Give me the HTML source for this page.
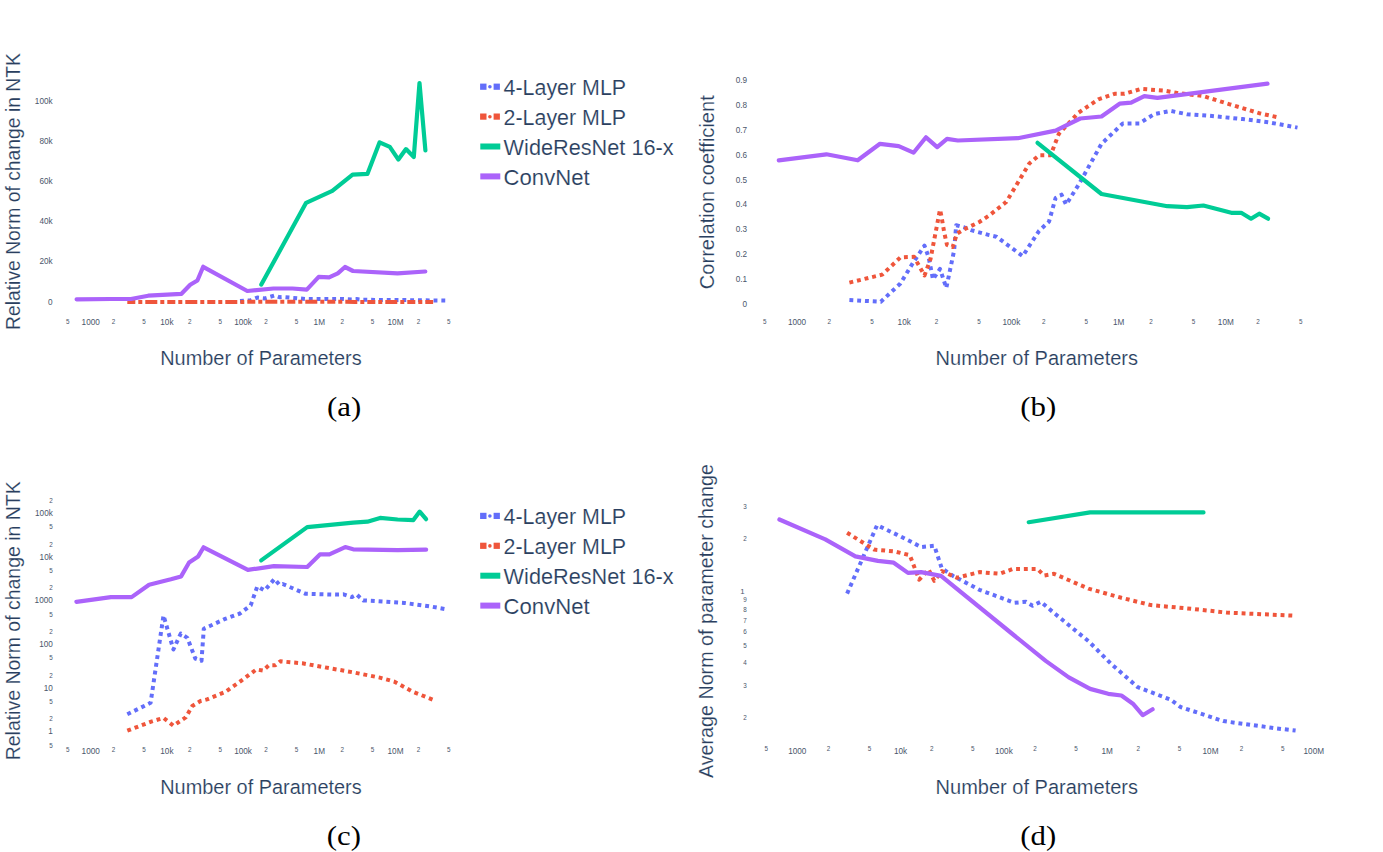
<!DOCTYPE html>
<html><head><meta charset="utf-8"><style>
html,body{margin:0;padding:0;background:#fff;}
body{width:1383px;height:852px;overflow:hidden;}
svg{display:block;}
.th{stroke:#fff;stroke-width:0.15px;}
</style></head><body>
<svg width="1383" height="852" viewBox="0 0 1383 852">
<rect width="1383" height="852" fill="#fff"/>
<text x="52.6" y="304.5" font-size="8.20" text-anchor="end" fill="#4b566b" font-family="Liberation Sans, sans-serif" >0</text>
<text x="52.6" y="264.4" font-size="8.20" text-anchor="end" fill="#4b566b" font-family="Liberation Sans, sans-serif" >20k</text>
<text x="52.6" y="224.3" font-size="8.20" text-anchor="end" fill="#4b566b" font-family="Liberation Sans, sans-serif" >40k</text>
<text x="52.6" y="184.2" font-size="8.20" text-anchor="end" fill="#4b566b" font-family="Liberation Sans, sans-serif" >60k</text>
<text x="52.6" y="144.1" font-size="8.20" text-anchor="end" fill="#4b566b" font-family="Liberation Sans, sans-serif" >80k</text>
<text x="52.6" y="104.0" font-size="8.20" text-anchor="end" fill="#4b566b" font-family="Liberation Sans, sans-serif" >100k</text>
<text x="67.8" y="324.0" font-size="6.30" text-anchor="middle" fill="#4b566b" font-family="Liberation Sans, sans-serif" >5</text>
<text x="90.7" y="324.6" font-size="8.20" text-anchor="middle" fill="#4b566b" font-family="Liberation Sans, sans-serif" >1000</text>
<text x="113.6" y="324.0" font-size="6.30" text-anchor="middle" fill="#4b566b" font-family="Liberation Sans, sans-serif" >2</text>
<text x="144.0" y="324.0" font-size="6.30" text-anchor="middle" fill="#4b566b" font-family="Liberation Sans, sans-serif" >5</text>
<text x="166.9" y="324.6" font-size="8.20" text-anchor="middle" fill="#4b566b" font-family="Liberation Sans, sans-serif" >10k</text>
<text x="189.8" y="324.0" font-size="6.30" text-anchor="middle" fill="#4b566b" font-family="Liberation Sans, sans-serif" >2</text>
<text x="220.2" y="324.0" font-size="6.30" text-anchor="middle" fill="#4b566b" font-family="Liberation Sans, sans-serif" >5</text>
<text x="243.1" y="324.6" font-size="8.20" text-anchor="middle" fill="#4b566b" font-family="Liberation Sans, sans-serif" >100k</text>
<text x="266.0" y="324.0" font-size="6.30" text-anchor="middle" fill="#4b566b" font-family="Liberation Sans, sans-serif" >2</text>
<text x="296.4" y="324.0" font-size="6.30" text-anchor="middle" fill="#4b566b" font-family="Liberation Sans, sans-serif" >5</text>
<text x="319.3" y="324.6" font-size="8.20" text-anchor="middle" fill="#4b566b" font-family="Liberation Sans, sans-serif" >1M</text>
<text x="342.2" y="324.0" font-size="6.30" text-anchor="middle" fill="#4b566b" font-family="Liberation Sans, sans-serif" >2</text>
<text x="372.6" y="324.0" font-size="6.30" text-anchor="middle" fill="#4b566b" font-family="Liberation Sans, sans-serif" >5</text>
<text x="395.5" y="324.6" font-size="8.20" text-anchor="middle" fill="#4b566b" font-family="Liberation Sans, sans-serif" >10M</text>
<text x="418.4" y="324.0" font-size="6.30" text-anchor="middle" fill="#4b566b" font-family="Liberation Sans, sans-serif" >2</text>
<text x="448.8" y="324.0" font-size="6.30" text-anchor="middle" fill="#4b566b" font-family="Liberation Sans, sans-serif" >5</text>
<text x="0" y="0" font-size="19.60" text-anchor="middle" fill="#2a3f5f" font-family="Liberation Sans, sans-serif" textLength="277.0" lengthAdjust="spacingAndGlyphs" class="th" transform="translate(19.8,191.5) rotate(-90)">Relative Norm of change in NTK</text>
<text x="160.2" y="364.9" font-size="19.60" fill="#2a3f5f" font-family="Liberation Sans, sans-serif" textLength="201.5" lengthAdjust="spacingAndGlyphs" class="th">Number of Parameters</text>
<text x="0" y="0" font-size="30.5" text-anchor="middle" fill="#000" font-family="Liberation Serif, serif" transform="translate(344.2,415.6) scale(1.01,0.92)">(a)</text>
<polyline points="240.0,300.9 250.7,300.3 257.3,297.6 264.6,298.4 274.5,295.5 279.4,297.2 282.7,297.0 305.7,299.0 335.3,299.1 343.5,299.0 351.7,299.4 356.7,299.1 363.2,299.8 374.7,299.9 404.3,300.1 430.6,300.4 445.4,300.6" fill="none" stroke="#636efa" stroke-width="4.0" stroke-dasharray="3.9,3.9" stroke-linejoin="round"/>
<polyline points="127.3,301.9 151.2,301.9 163.5,301.9 173.4,301.9 185.7,301.9 192.3,301.9 200.5,301.9 207.1,301.9 225.1,301.9 241.5,301.9 256.4,301.8 263.0,301.8 268.8,301.8 275.3,301.8 280.3,301.8 284.4,301.8 302.4,301.8 332.0,301.8 355.0,301.9 379.7,301.9 394.5,301.9 412.5,301.9 433.1,301.9" fill="none" stroke="#ef553b" stroke-width="4.0" stroke-dasharray="8,3,4,3,12,3,4,3" stroke-linejoin="round"/>
<polyline points="261.3,284.6 306.1,202.8 332.3,190.9 352.6,174.7 367.4,173.9 379.6,142.3 389.8,146.9 398.4,159.6 406.0,149.1 413.8,156.9 419.5,83.0 425.4,150.4" fill="none" stroke="#00cc96" stroke-width="4.2" stroke-linejoin="round" stroke-linecap="round"/>
<polyline points="76.6,299.3 110.6,299.0 130.9,299.0 148.2,295.7 181.5,293.8 190.2,284.8 197.4,280.5 203.2,266.8 247.3,291.0 273.4,288.5 292.5,288.5 306.8,289.6 318.7,276.9 329.1,277.4 337.8,273.4 345.0,267.0 353.0,271.0 397.5,273.4 425.3,271.5" fill="none" stroke="#ab63fa" stroke-width="4.2" stroke-linejoin="round" stroke-linecap="round"/>
<rect x="480.1" y="83.6" width="6.4" height="6.2" fill="#636efa"/>
<circle cx="489.9" cy="86.8" r="1.8" fill="#636efa"/>
<rect x="493.6" y="83.6" width="6.3" height="6.2" fill="#636efa"/>
<text x="503.6" y="94.9" font-size="22.2" fill="#2a3f5f" font-family="Liberation Sans, sans-serif" textLength="122.5" lengthAdjust="spacingAndGlyphs" class="th">4-Layer MLP</text>
<rect x="480.1" y="113.5" width="6.4" height="6.2" fill="#ef553b"/>
<circle cx="489.9" cy="116.7" r="1.8" fill="#ef553b"/>
<rect x="493.6" y="113.5" width="6.3" height="6.2" fill="#ef553b"/>
<text x="503.6" y="124.8" font-size="22.2" fill="#2a3f5f" font-family="Liberation Sans, sans-serif" textLength="122.5" lengthAdjust="spacingAndGlyphs" class="th">2-Layer MLP</text>
<rect x="480.3" y="143.5" width="20" height="6" fill="#00cc96"/>
<text x="503.6" y="154.7" font-size="22.2" fill="#2a3f5f" font-family="Liberation Sans, sans-serif" textLength="170.0" lengthAdjust="spacingAndGlyphs" class="th">WideResNet 16-x</text>
<rect x="480.3" y="173.4" width="20" height="6" fill="#ab63fa"/>
<text x="503.6" y="184.6" font-size="22.2" fill="#2a3f5f" font-family="Liberation Sans, sans-serif" textLength="86.0" lengthAdjust="spacingAndGlyphs" class="th">ConvNet</text>
<text x="747.1" y="307.0" font-size="8.20" text-anchor="end" fill="#4b566b" font-family="Liberation Sans, sans-serif" >0</text>
<text x="747.1" y="282.1" font-size="8.20" text-anchor="end" fill="#4b566b" font-family="Liberation Sans, sans-serif" >0.1</text>
<text x="747.1" y="257.2" font-size="8.20" text-anchor="end" fill="#4b566b" font-family="Liberation Sans, sans-serif" >0.2</text>
<text x="747.1" y="232.3" font-size="8.20" text-anchor="end" fill="#4b566b" font-family="Liberation Sans, sans-serif" >0.3</text>
<text x="747.1" y="207.4" font-size="8.20" text-anchor="end" fill="#4b566b" font-family="Liberation Sans, sans-serif" >0.4</text>
<text x="747.1" y="182.5" font-size="8.20" text-anchor="end" fill="#4b566b" font-family="Liberation Sans, sans-serif" >0.5</text>
<text x="747.1" y="157.6" font-size="8.20" text-anchor="end" fill="#4b566b" font-family="Liberation Sans, sans-serif" >0.6</text>
<text x="747.1" y="132.7" font-size="8.20" text-anchor="end" fill="#4b566b" font-family="Liberation Sans, sans-serif" >0.7</text>
<text x="747.1" y="107.8" font-size="8.20" text-anchor="end" fill="#4b566b" font-family="Liberation Sans, sans-serif" >0.8</text>
<text x="747.1" y="82.9" font-size="8.20" text-anchor="end" fill="#4b566b" font-family="Liberation Sans, sans-serif" >0.9</text>
<text x="764.7" y="324.0" font-size="6.30" text-anchor="middle" fill="#4b566b" font-family="Liberation Sans, sans-serif" >5</text>
<text x="797.0" y="324.5" font-size="8.20" text-anchor="middle" fill="#4b566b" font-family="Liberation Sans, sans-serif" >1000</text>
<text x="829.3" y="324.0" font-size="6.30" text-anchor="middle" fill="#4b566b" font-family="Liberation Sans, sans-serif" >2</text>
<text x="871.9" y="324.0" font-size="6.30" text-anchor="middle" fill="#4b566b" font-family="Liberation Sans, sans-serif" >5</text>
<text x="904.2" y="324.5" font-size="8.20" text-anchor="middle" fill="#4b566b" font-family="Liberation Sans, sans-serif" >10k</text>
<text x="936.5" y="324.0" font-size="6.30" text-anchor="middle" fill="#4b566b" font-family="Liberation Sans, sans-serif" >2</text>
<text x="979.1" y="324.0" font-size="6.30" text-anchor="middle" fill="#4b566b" font-family="Liberation Sans, sans-serif" >5</text>
<text x="1011.4" y="324.5" font-size="8.20" text-anchor="middle" fill="#4b566b" font-family="Liberation Sans, sans-serif" >100k</text>
<text x="1043.7" y="324.0" font-size="6.30" text-anchor="middle" fill="#4b566b" font-family="Liberation Sans, sans-serif" >2</text>
<text x="1086.3" y="324.0" font-size="6.30" text-anchor="middle" fill="#4b566b" font-family="Liberation Sans, sans-serif" >5</text>
<text x="1118.6" y="324.5" font-size="8.20" text-anchor="middle" fill="#4b566b" font-family="Liberation Sans, sans-serif" >1M</text>
<text x="1150.9" y="324.0" font-size="6.30" text-anchor="middle" fill="#4b566b" font-family="Liberation Sans, sans-serif" >2</text>
<text x="1193.5" y="324.0" font-size="6.30" text-anchor="middle" fill="#4b566b" font-family="Liberation Sans, sans-serif" >5</text>
<text x="1225.8" y="324.5" font-size="8.20" text-anchor="middle" fill="#4b566b" font-family="Liberation Sans, sans-serif" >10M</text>
<text x="1258.1" y="324.0" font-size="6.30" text-anchor="middle" fill="#4b566b" font-family="Liberation Sans, sans-serif" >2</text>
<text x="1300.7" y="324.0" font-size="6.30" text-anchor="middle" fill="#4b566b" font-family="Liberation Sans, sans-serif" >5</text>
<text x="0" y="0" font-size="19.60" text-anchor="middle" fill="#2a3f5f" font-family="Liberation Sans, sans-serif" textLength="194.0" lengthAdjust="spacingAndGlyphs" class="th" transform="translate(713.9,192.2) rotate(-90)">Correlation coefficient</text>
<text x="935.6" y="364.8" font-size="19.60" fill="#2a3f5f" font-family="Liberation Sans, sans-serif" textLength="202.4" lengthAdjust="spacingAndGlyphs" class="th">Number of Parameters</text>
<text x="0" y="0" font-size="30.5" text-anchor="middle" fill="#000" font-family="Liberation Serif, serif" transform="translate(1038.2,416.2) scale(1.01,0.92)">(b)</text>
<polyline points="849.4,300.0 880.8,301.8 900.4,283.5 913.2,262.5 924.5,245.6 928.7,257.6 933.0,279.4 940.0,268.9 946.3,287.9 954.1,250.6 956.2,225.2 964.0,227.3 971.0,230.1 989.3,235.1 996.4,236.7 1022.7,256.1 1039.1,230.8 1049.0,221.6 1055.6,198.0 1061.5,194.7 1066.1,204.5 1078.6,184.8 1101.5,143.8 1122.9,123.4 1139.3,123.4 1154.1,114.2 1170.5,110.9 1187.0,114.2 1210.0,115.8 1242.8,119.1 1269.1,122.4 1297.5,127.6" fill="none" stroke="#636efa" stroke-width="4.0" stroke-dasharray="3.9,3.9" stroke-linejoin="round"/>
<polyline points="849.4,282.6 882.3,274.6 900.5,257.3 914.0,256.8 924.5,275.5 930.5,259.0 940.0,209.7 941.4,216.0 944.2,232.3 947.0,244.9 952.7,247.0 956.9,233.7 964.0,229.4 979.3,222.0 989.3,215.4 1006.3,201.9 1029.3,163.5 1039.1,155.3 1050.6,155.3 1058.8,133.9 1078.6,112.6 1098.3,99.4 1114.7,93.8 1124.5,93.8 1141.0,88.9 1164.0,90.6 1177.1,92.9 1203.4,96.1 1229.7,104.3 1259.2,113.2 1279.0,117.5" fill="none" stroke="#ef553b" stroke-width="4.0" stroke-dasharray="3.9,3.9" stroke-linejoin="round"/>
<polyline points="1037.5,142.8 1101.5,194.0 1167.3,206.2 1187.0,207.2 1203.4,205.5 1231.3,212.8 1241.2,212.8 1251.0,218.7 1259.2,213.7 1268.1,218.7" fill="none" stroke="#00cc96" stroke-width="4.2" stroke-linejoin="round" stroke-linecap="round"/>
<polyline points="778.8,160.3 826.4,154.3 857.7,160.3 880.0,143.8 898.7,146.1 913.5,152.7 926.0,137.3 937.2,147.1 947.0,138.9 957.9,140.5 1017.8,138.2 1055.6,130.6 1080.2,118.5 1101.5,116.5 1119.6,103.7 1131.1,102.7 1144.3,96.1 1157.4,97.8 1267.5,83.7" fill="none" stroke="#ab63fa" stroke-width="4.2" stroke-linejoin="round" stroke-linecap="round"/>
<text x="52.8" y="734.3" font-size="8.20" text-anchor="end" fill="#4b566b" font-family="Liberation Sans, sans-serif" >1</text>
<text x="52.8" y="721.3" font-size="6.30" text-anchor="end" fill="#4b566b" font-family="Liberation Sans, sans-serif" >2</text>
<text x="52.8" y="747.5" font-size="6.30" text-anchor="end" fill="#4b566b" font-family="Liberation Sans, sans-serif" >5</text>
<text x="52.8" y="690.6" font-size="8.20" text-anchor="end" fill="#4b566b" font-family="Liberation Sans, sans-serif" >10</text>
<text x="52.8" y="677.6" font-size="6.30" text-anchor="end" fill="#4b566b" font-family="Liberation Sans, sans-serif" >2</text>
<text x="52.8" y="703.9" font-size="6.30" text-anchor="end" fill="#4b566b" font-family="Liberation Sans, sans-serif" >5</text>
<text x="52.8" y="646.9" font-size="8.20" text-anchor="end" fill="#4b566b" font-family="Liberation Sans, sans-serif" >100</text>
<text x="52.8" y="633.9" font-size="6.30" text-anchor="end" fill="#4b566b" font-family="Liberation Sans, sans-serif" >2</text>
<text x="52.8" y="660.2" font-size="6.30" text-anchor="end" fill="#4b566b" font-family="Liberation Sans, sans-serif" >5</text>
<text x="52.8" y="603.3" font-size="8.20" text-anchor="end" fill="#4b566b" font-family="Liberation Sans, sans-serif" >1000</text>
<text x="52.8" y="590.2" font-size="6.30" text-anchor="end" fill="#4b566b" font-family="Liberation Sans, sans-serif" >2</text>
<text x="52.8" y="616.5" font-size="6.30" text-anchor="end" fill="#4b566b" font-family="Liberation Sans, sans-serif" >5</text>
<text x="52.8" y="559.6" font-size="8.20" text-anchor="end" fill="#4b566b" font-family="Liberation Sans, sans-serif" >10k</text>
<text x="52.8" y="546.5" font-size="6.30" text-anchor="end" fill="#4b566b" font-family="Liberation Sans, sans-serif" >2</text>
<text x="52.8" y="572.8" font-size="6.30" text-anchor="end" fill="#4b566b" font-family="Liberation Sans, sans-serif" >5</text>
<text x="52.8" y="515.9" font-size="8.20" text-anchor="end" fill="#4b566b" font-family="Liberation Sans, sans-serif" >100k</text>
<text x="52.8" y="502.9" font-size="6.30" text-anchor="end" fill="#4b566b" font-family="Liberation Sans, sans-serif" >2</text>
<text x="52.8" y="529.1" font-size="6.30" text-anchor="end" fill="#4b566b" font-family="Liberation Sans, sans-serif" >5</text>
<text x="67.8" y="752.1" font-size="6.30" text-anchor="middle" fill="#4b566b" font-family="Liberation Sans, sans-serif" >5</text>
<text x="90.7" y="754.1" font-size="8.20" text-anchor="middle" fill="#4b566b" font-family="Liberation Sans, sans-serif" >1000</text>
<text x="113.6" y="752.1" font-size="6.30" text-anchor="middle" fill="#4b566b" font-family="Liberation Sans, sans-serif" >2</text>
<text x="144.0" y="752.1" font-size="6.30" text-anchor="middle" fill="#4b566b" font-family="Liberation Sans, sans-serif" >5</text>
<text x="166.9" y="754.1" font-size="8.20" text-anchor="middle" fill="#4b566b" font-family="Liberation Sans, sans-serif" >10k</text>
<text x="189.8" y="752.1" font-size="6.30" text-anchor="middle" fill="#4b566b" font-family="Liberation Sans, sans-serif" >2</text>
<text x="220.2" y="752.1" font-size="6.30" text-anchor="middle" fill="#4b566b" font-family="Liberation Sans, sans-serif" >5</text>
<text x="243.1" y="754.1" font-size="8.20" text-anchor="middle" fill="#4b566b" font-family="Liberation Sans, sans-serif" >100k</text>
<text x="266.0" y="752.1" font-size="6.30" text-anchor="middle" fill="#4b566b" font-family="Liberation Sans, sans-serif" >2</text>
<text x="296.4" y="752.1" font-size="6.30" text-anchor="middle" fill="#4b566b" font-family="Liberation Sans, sans-serif" >5</text>
<text x="319.3" y="754.1" font-size="8.20" text-anchor="middle" fill="#4b566b" font-family="Liberation Sans, sans-serif" >1M</text>
<text x="342.2" y="752.1" font-size="6.30" text-anchor="middle" fill="#4b566b" font-family="Liberation Sans, sans-serif" >2</text>
<text x="372.6" y="752.1" font-size="6.30" text-anchor="middle" fill="#4b566b" font-family="Liberation Sans, sans-serif" >5</text>
<text x="395.5" y="754.1" font-size="8.20" text-anchor="middle" fill="#4b566b" font-family="Liberation Sans, sans-serif" >10M</text>
<text x="418.4" y="752.1" font-size="6.30" text-anchor="middle" fill="#4b566b" font-family="Liberation Sans, sans-serif" >2</text>
<text x="448.8" y="752.1" font-size="6.30" text-anchor="middle" fill="#4b566b" font-family="Liberation Sans, sans-serif" >5</text>
<text x="0" y="0" font-size="19.60" text-anchor="middle" fill="#2a3f5f" font-family="Liberation Sans, sans-serif" textLength="279.0" lengthAdjust="spacingAndGlyphs" class="th" transform="translate(19.8,620.8) rotate(-90)">Relative Norm of change in NTK</text>
<text x="160.2" y="793.6" font-size="19.60" fill="#2a3f5f" font-family="Liberation Sans, sans-serif" textLength="201.5" lengthAdjust="spacingAndGlyphs" class="th">Number of Parameters</text>
<text x="0" y="0" font-size="30.5" text-anchor="middle" fill="#000" font-family="Liberation Serif, serif" transform="translate(343.8,844.7) scale(1.01,0.92)">(c)</text>
<polyline points="127.3,714.3 150.6,702.8 163.5,615.5 173.4,649.5 180.8,633.5 187.3,637.8 195.3,658.5 201.5,660.8 203.8,628.7 209.8,626.0 225.1,618.9 240.0,613.5 250.7,605.3 257.3,586.4 264.6,590.5 274.5,579.0 279.4,584.8 282.7,584.0 305.7,593.8 335.3,594.6 343.5,594.3 351.7,597.1 356.7,594.6 363.2,600.4 374.7,600.9 404.3,602.9 430.6,606.5 445.4,609.1" fill="none" stroke="#636efa" stroke-width="4.0" stroke-dasharray="3.9,3.9" stroke-linejoin="round"/>
<polyline points="127.3,730.7 151.2,721.6 163.5,717.9 173.4,725.7 185.7,717.4 192.3,706.0 200.5,701.0 207.1,699.4 225.1,692.0 241.5,680.5 256.4,669.4 263.0,670.6 268.8,665.3 275.3,665.3 280.3,661.2 284.4,661.7 302.4,663.3 332.0,668.6 355.0,672.7 379.7,677.6 394.5,681.7 412.5,691.6 433.1,699.8" fill="none" stroke="#ef553b" stroke-width="4.0" stroke-dasharray="3.9,3.9" stroke-linejoin="round"/>
<polyline points="261.2,560.4 307.2,527.1 353.2,522.7 367.4,521.7 380.1,517.9 397.6,519.5 413.4,520.1 419.7,511.6 426.1,519.2" fill="none" stroke="#00cc96" stroke-width="4.2" stroke-linejoin="round" stroke-linecap="round"/>
<polyline points="76.4,601.8 110.9,597.1 131.6,597.1 149.1,584.7 170.9,579.3 181.1,576.4 189.1,562.5 198.2,556.4 203.6,547.3 247.9,569.9 273.9,566.1 307.2,567.0 319.9,554.4 329.4,554.4 345.2,547.1 353.2,549.3 397.6,550.2 426.1,549.6" fill="none" stroke="#ab63fa" stroke-width="4.2" stroke-linejoin="round" stroke-linecap="round"/>
<rect x="480.1" y="512.8" width="6.4" height="6.2" fill="#636efa"/>
<circle cx="489.9" cy="516.0" r="1.8" fill="#636efa"/>
<rect x="493.6" y="512.8" width="6.3" height="6.2" fill="#636efa"/>
<text x="503.6" y="524.1" font-size="22.2" fill="#2a3f5f" font-family="Liberation Sans, sans-serif" textLength="122.5" lengthAdjust="spacingAndGlyphs" class="th">4-Layer MLP</text>
<rect x="480.1" y="542.7" width="6.4" height="6.2" fill="#ef553b"/>
<circle cx="489.9" cy="545.9" r="1.8" fill="#ef553b"/>
<rect x="493.6" y="542.7" width="6.3" height="6.2" fill="#ef553b"/>
<text x="503.6" y="554.0" font-size="22.2" fill="#2a3f5f" font-family="Liberation Sans, sans-serif" textLength="122.5" lengthAdjust="spacingAndGlyphs" class="th">2-Layer MLP</text>
<rect x="480.3" y="572.7" width="20" height="6" fill="#00cc96"/>
<text x="503.6" y="583.9" font-size="22.2" fill="#2a3f5f" font-family="Liberation Sans, sans-serif" textLength="170.0" lengthAdjust="spacingAndGlyphs" class="th">WideResNet 16-x</text>
<rect x="480.3" y="602.6" width="20" height="6" fill="#ab63fa"/>
<text x="503.6" y="613.8" font-size="22.2" fill="#2a3f5f" font-family="Liberation Sans, sans-serif" textLength="86.0" lengthAdjust="spacingAndGlyphs" class="th">ConvNet</text>
<text x="745.1" y="508.9" font-size="6.30" text-anchor="middle" fill="#4b566b" font-family="Liberation Sans, sans-serif" >3</text>
<text x="745.1" y="540.5" font-size="6.30" text-anchor="middle" fill="#4b566b" font-family="Liberation Sans, sans-serif" >2</text>
<text x="745.1" y="602.4" font-size="6.30" text-anchor="middle" fill="#4b566b" font-family="Liberation Sans, sans-serif" >9</text>
<text x="745.1" y="611.5" font-size="6.30" text-anchor="middle" fill="#4b566b" font-family="Liberation Sans, sans-serif" >8</text>
<text x="745.1" y="622.5" font-size="6.30" text-anchor="middle" fill="#4b566b" font-family="Liberation Sans, sans-serif" >7</text>
<text x="745.1" y="634.1" font-size="6.30" text-anchor="middle" fill="#4b566b" font-family="Liberation Sans, sans-serif" >6</text>
<text x="745.1" y="648.1" font-size="6.30" text-anchor="middle" fill="#4b566b" font-family="Liberation Sans, sans-serif" >5</text>
<text x="745.1" y="665.2" font-size="6.30" text-anchor="middle" fill="#4b566b" font-family="Liberation Sans, sans-serif" >4</text>
<text x="745.1" y="687.8" font-size="6.30" text-anchor="middle" fill="#4b566b" font-family="Liberation Sans, sans-serif" >3</text>
<text x="745.1" y="719.7" font-size="6.30" text-anchor="middle" fill="#4b566b" font-family="Liberation Sans, sans-serif" >2</text>
<text x="742.4" y="593.7" font-size="7.80" text-anchor="middle" fill="#4b566b" font-family="Liberation Sans, sans-serif" >1</text>
<text x="766.2" y="751.2" font-size="6.30" text-anchor="middle" fill="#4b566b" font-family="Liberation Sans, sans-serif" >5</text>
<text x="797.3" y="753.8" font-size="8.20" text-anchor="middle" fill="#4b566b" font-family="Liberation Sans, sans-serif" >1000</text>
<text x="828.4" y="751.2" font-size="6.30" text-anchor="middle" fill="#4b566b" font-family="Liberation Sans, sans-serif" >2</text>
<text x="869.5" y="751.2" font-size="6.30" text-anchor="middle" fill="#4b566b" font-family="Liberation Sans, sans-serif" >5</text>
<text x="900.6" y="753.8" font-size="8.20" text-anchor="middle" fill="#4b566b" font-family="Liberation Sans, sans-serif" >10k</text>
<text x="931.7" y="751.2" font-size="6.30" text-anchor="middle" fill="#4b566b" font-family="Liberation Sans, sans-serif" >2</text>
<text x="972.8" y="751.2" font-size="6.30" text-anchor="middle" fill="#4b566b" font-family="Liberation Sans, sans-serif" >5</text>
<text x="1003.9" y="753.8" font-size="8.20" text-anchor="middle" fill="#4b566b" font-family="Liberation Sans, sans-serif" >100k</text>
<text x="1035.0" y="751.2" font-size="6.30" text-anchor="middle" fill="#4b566b" font-family="Liberation Sans, sans-serif" >2</text>
<text x="1076.1" y="751.2" font-size="6.30" text-anchor="middle" fill="#4b566b" font-family="Liberation Sans, sans-serif" >5</text>
<text x="1107.2" y="753.8" font-size="8.20" text-anchor="middle" fill="#4b566b" font-family="Liberation Sans, sans-serif" >1M</text>
<text x="1138.3" y="751.2" font-size="6.30" text-anchor="middle" fill="#4b566b" font-family="Liberation Sans, sans-serif" >2</text>
<text x="1179.4" y="751.2" font-size="6.30" text-anchor="middle" fill="#4b566b" font-family="Liberation Sans, sans-serif" >5</text>
<text x="1210.5" y="753.8" font-size="8.20" text-anchor="middle" fill="#4b566b" font-family="Liberation Sans, sans-serif" >10M</text>
<text x="1241.6" y="751.2" font-size="6.30" text-anchor="middle" fill="#4b566b" font-family="Liberation Sans, sans-serif" >2</text>
<text x="1282.7" y="751.2" font-size="6.30" text-anchor="middle" fill="#4b566b" font-family="Liberation Sans, sans-serif" >5</text>
<text x="1313.8" y="753.8" font-size="8.20" text-anchor="middle" fill="#4b566b" font-family="Liberation Sans, sans-serif" >100M</text>
<text x="0" y="0" font-size="19.60" text-anchor="middle" fill="#2a3f5f" font-family="Liberation Sans, sans-serif" textLength="314.0" lengthAdjust="spacingAndGlyphs" class="th" transform="translate(713.0,621.1) rotate(-90)">Average Norm of parameter change</text>
<text x="935.6" y="793.8" font-size="19.60" fill="#2a3f5f" font-family="Liberation Sans, sans-serif" textLength="202.4" lengthAdjust="spacingAndGlyphs" class="th">Number of Parameters</text>
<text x="0" y="0" font-size="30.5" text-anchor="middle" fill="#000" font-family="Liberation Serif, serif" transform="translate(1038.2,845.1) scale(1.01,0.92)">(d)</text>
<polyline points="847.1,593.6 877.1,525.2 896.7,534.6 911.7,542.1 921.1,547.0 934.3,545.8 941.8,568.4 953.1,575.9 979.4,589.8 1014.5,602.8 1026.0,601.8 1032.6,605.7 1040.8,601.8 1055.6,614.3 1088.5,641.2 1111.5,664.2 1137.8,687.2 1170.7,699.7 1180.5,707.0 1223.3,721.1 1275.9,728.3 1295.6,730.6" fill="none" stroke="#636efa" stroke-width="4.0" stroke-dasharray="3.9,3.9" stroke-linejoin="round"/>
<polyline points="847.1,532.7 874.1,549.6 894.8,551.5 909.8,555.2 919.2,579.7 928.6,569.5 934.3,580.8 941.8,571.0 956.8,577.8 979.4,572.1 999.7,573.8 1012.9,568.9 1037.5,568.9 1044.1,575.5 1054.0,573.8 1088.5,588.6 1121.4,597.8 1150.9,605.1 1193.7,609.0 1226.5,612.6 1292.3,615.6" fill="none" stroke="#ef553b" stroke-width="4.0" stroke-dasharray="3.9,3.9" stroke-linejoin="round"/>
<polyline points="1028.7,522.2 1090.1,512.4 1203.5,512.4" fill="none" stroke="#00cc96" stroke-width="4.2" stroke-linejoin="round" stroke-linecap="round"/>
<polyline points="779.4,519.5 825.3,539.4 855.4,556.4 877.9,560.9 893.7,562.7 908.0,572.9 921.1,572.1 941.0,575.9 1011.2,633.0 1045.7,660.9 1068.8,677.4 1090.1,688.9 1108.2,693.8 1121.4,695.5 1132.9,703.7 1142.7,715.2 1152.6,709.3" fill="none" stroke="#ab63fa" stroke-width="4.2" stroke-linejoin="round" stroke-linecap="round"/>
</svg></body></html>
